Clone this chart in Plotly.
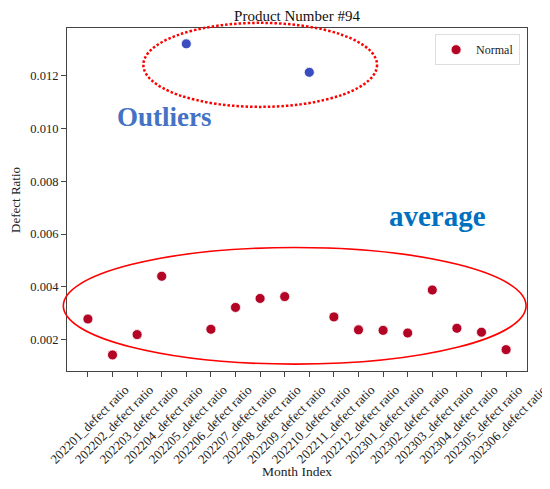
import plotly.graph_objects as go

MONTHS = ["202201", "202202", "202203", "202204", "202205", "202206",
          "202207", "202208", "202209", "202210", "202211", "202212",
          "202301", "202302", "202303", "202304", "202305", "202306"]
DEFECT_RATIO = [0.00278, 0.00142, 0.00219, 0.00440, 0.01321, 0.00239,
                0.00322, 0.00356, 0.00363, 0.01213, 0.00286, 0.00237,
                0.00235, 0.00225, 0.00388, 0.00243, 0.00228, 0.00162]
IS_OUTLIER = [False, False, False, False, True, False,
              False, False, False, True, False, False,
              False, False, False, False, False, False]
TICK_LABELS = [m + "_defect ratio" for m in MONTHS]

FONT = "Liberation Serif"
RED = "#B40426"
BLUE = "#3B4CC0"

idx = list(range(len(MONTHS)))
norm_x = [i for i in idx if not IS_OUTLIER[i]]
norm_y = [DEFECT_RATIO[i] for i in norm_x]
out_x = [i for i in idx if IS_OUTLIER[i]]
out_y = [DEFECT_RATIO[i] for i in out_x]

fig = go.Figure()
fig.add_trace(go.Scatter(x=norm_x, y=norm_y, mode="markers", name="Normal",
                         marker=dict(color=RED, size=10, line=dict(color="white", width=0.8))))
fig.add_trace(go.Scatter(x=out_x, y=out_y, mode="markers", name="Outlier", showlegend=False,
                         marker=dict(color=BLUE, size=10, line=dict(color="white", width=0.8))))

# ellipses drawn in paper coords so they can poke out of the frame
fig.add_shape(type="circle", xref="paper", yref="paper",
              x0=0.166, x1=0.674, y0=0.770, y1=1.015,
              line=dict(color="red", width=2.5, dash="2.5px,2px"))
fig.add_shape(type="circle", xref="paper", yref="paper",
              x0=-0.008, x1=0.998, y0=0.020, y1=0.360,
              line=dict(color="red", width=1.6))

fig.add_annotation(text="<b>Outliers</b>", xref="paper", yref="paper", x=0.211, y=0.740,
                   xanchor="center", yanchor="middle", showarrow=False,
                   font=dict(family=FONT, size=27, color="#4472C4"))
fig.add_annotation(text="<b>average</b>", xref="paper", yref="paper", x=0.805, y=0.452,
                   xanchor="center", yanchor="middle", showarrow=False,
                   font=dict(family=FONT, size=29, color="#0070C0"))
# axis titles
fig.add_annotation(text="Defect Ratio", xref="paper", yref="paper", x=-0.112, y=0.5,
                   xanchor="center", yanchor="middle", textangle=-90, showarrow=False,
                   font=dict(family=FONT, size=13, color="#222"))
fig.add_annotation(text="Month Index", xref="paper", yref="paper", x=0.5, y=-0.294,
                   xanchor="center", yanchor="middle", showarrow=False,
                   font=dict(family=FONT, size=13.5, color="#222"))

# page body has an 8px margin, so the figure is shrunk by that much
fig.update_layout(
    width=542, height=481,
    margin=dict(l=59, r=23, t=20, b=118),
    paper_bgcolor="white", plot_bgcolor="white",
    font=dict(family=FONT, size=12.5, color="#222"),
    title=dict(text="Product Number #94", x=0.5, xref="paper", xanchor="center",
               y=1 - 7.5 / 481, yanchor="middle", font=dict(family=FONT, size=15, color="#111")),
    legend=dict(x=0.985, y=0.982, xanchor="right", yanchor="top",
                bordercolor="#dddddd", borderwidth=1, bgcolor="white",
                font=dict(family=FONT, size=12, color="#222")),
    # rotated labels are centred on their tick (as in the original), hence the shift
    xaxis=dict(range=[-0.85, 17.85], tickvals=idx, ticktext=TICK_LABELS, tickangle=-45,
               ticklabelshift=37,
               showline=True, mirror=True, linecolor="#444", linewidth=1.2,
               ticks="outside", ticklen=5, tickcolor="#444", showgrid=False, zeroline=False,
               automargin=False, tickfont=dict(size=13)),
    yaxis=dict(range=[0.00081, 0.01381], tickvals=[0.002, 0.004, 0.006, 0.008, 0.010, 0.012],
               tickformat=".3f", showline=True, mirror=True, linecolor="#444", linewidth=1.2,
               ticks="outside", ticklen=5, tickcolor="#444", showgrid=False, zeroline=False,
               automargin=False, tickfont=dict(size=12.5)),
)

fig.write_html("out.html")
